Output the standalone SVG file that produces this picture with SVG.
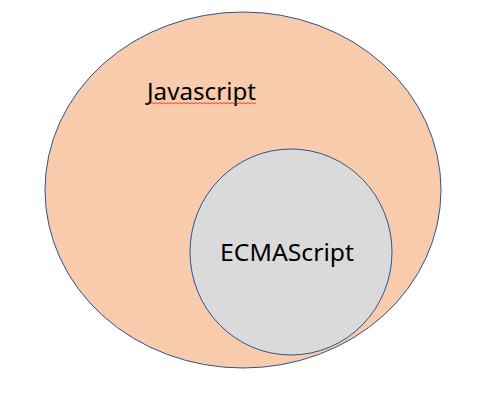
<svg xmlns="http://www.w3.org/2000/svg" width="483" height="406" viewBox="0 0 483 406">
<style>
.shape{stroke:#2F528F;stroke-width:1}
.lbl{font-family:"Noto Sans","Open Sans","Liberation Sans",sans-serif;font-size:24px;fill:#000}
.squiggle{fill:none;stroke:#E02020;stroke-width:0.8}
</style>
<rect width="483" height="406" fill="#ffffff"/>
<g id="javascript">
<ellipse class="shape" cx="243" cy="190" rx="198" ry="178" fill="#F8CBAD"/>
<text class="lbl" x="147" y="100" textLength="109" lengthAdjust="spacingAndGlyphs">Javascript</text>
<path class="squiggle" d="M146,104 l2,-1.5 l2,1.5 l2,-1.5 l2,1.5 l2,-1.5 l2,1.5 l2,-1.5 l2,1.5 l2,-1.5 l2,1.5 l2,-1.5 l2,1.5 l2,-1.5 l2,1.5 l2,-1.5 l2,1.5 l2,-1.5 l2,1.5 l2,-1.5 l2,1.5 l2,-1.5 l2,1.5 l2,-1.5 l2,1.5 l2,-1.5 l2,1.5 l2,-1.5 l2,1.5 l2,-1.5 l2,1.5 l2,-1.5 l2,1.5 l2,-1.5 l2,1.5 l2,-1.5 l2,1.5 l2,-1.5 l2,1.5 l2,-1.5 l2,1.5 l2,-1.5 l2,1.5 l2,-1.5 l2,1.5 l2,-1.5 l2,1.5 l2,-1.5 l2,1.5 l2,-1.5 l2,1.5 l2,-1.5 l2,1.5 l2,-1.5 l2,1.5 l2,-1.5"/>
</g>
<g id="ecmascript">
<ellipse class="shape" cx="291" cy="252" rx="101" ry="103" fill="#DADADA"/>
<text class="lbl" x="220" y="261" textLength="134" lengthAdjust="spacingAndGlyphs">ECMAScript</text>
</g>
<g id="connectors"></g>
</svg>
